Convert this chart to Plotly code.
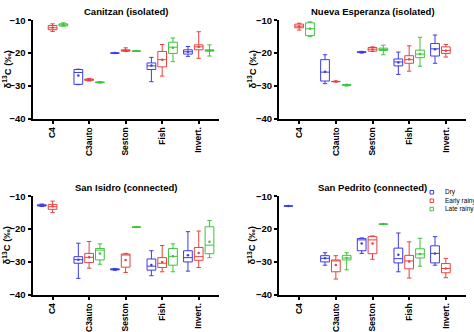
import plotly.graph_objects as go

CATEGORIES = ["C4", "C3auto", "Seston", "Fish", "Invert."]
SEASONS = ["Dry", "Early rainy", "Late rainy"]
SEASON_COLORS = ["#3c3ce6", "#e8403f", "#3dc43d"]
SITES = ["Canitzan (isolated)", "Nueva Esperanza (isolated)",
         "San Isidro (connected)", "San Pedrito (connected)"]
Y_TICKS = [-10, -20, -30, -40]
Y_TITLE = "δ<sup>13</sup>C (‰)"

# per category: (lower whisker, Q1, median, Q3, upper whisker, mean); None = no samples
canitzan_dry = [None,
                (-29.6, -29.5, -25.9, -25.0, -24.9, -26.8),
                (-20.1, -20.05, -20.0, -19.95, -19.9, -20.0),
                (-28.7, -25.0, -23.9, -23.0, -21.3, -23.8),
                (-21.0, -20.3, -19.6, -19.0, -18.0, -19.6)]
canitzan_early = [(-13.4, -12.9, -12.3, -11.6, -11.1, -12.2),
                  (-28.5, -28.3, -28.1, -27.9, -27.7, -28.1),
                  (-19.5, -19.4, -19.3, -19.0, -18.4, -19.2),
                  (-27.0, -24.2, -22.0, -19.5, -17.4, -22.0),
                  (-21.6, -19.0, -18.1, -17.5, -13.5, -18.1)]
canitzan_late = [(-11.8, -11.75, -11.4, -11.1, -10.8, -11.4),
                 (-29.1, -29.0, -28.9, -28.8, -28.7, -28.9),
                 (-19.5, -19.45, -19.4, -19.35, -19.3, -19.4),
                 (-22.6, -20.1, -18.2, -16.7, -15.4, -18.4),
                 (-20.9, -19.4, -19.2, -19.0, -17.5, -19.3)]

nueva_dry = [None,
             (-29.3, -28.5, -25.8, -22.0, -20.5, -25.7),
             (-20.0, -19.8, -19.7, -19.6, -19.5, -19.7),
             (-26.5, -23.9, -22.7, -21.8, -19.7, -22.9),
             (-23.1, -20.9, -18.7, -17.1, -14.5, -18.8)]
nueva_early = [(-13.0, -12.3, -11.8, -11.2, -10.9, -11.9),
               (-28.8, -28.7, -28.65, -28.6, -28.5, -28.65),
               (-19.5, -19.4, -18.8, -18.3, -18.1, -18.9),
               (-25.5, -23.1, -22.0, -20.8, -17.8, -21.9),
               (-21.2, -20.1, -19.2, -18.1, -17.4, -19.3)]
nueva_late = [(-15.0, -14.7, -12.6, -10.8, -10.5, -12.6),
              (-30.0, -29.8, -29.7, -29.6, -29.5, -29.7),
              (-20.5, -19.2, -18.9, -18.5, -17.6, -18.9),
              (-24.0, -21.4, -20.3, -19.1, -15.2, -20.3),
              None]

isidro_dry = [(-13.1, -13.0, -12.8, -12.6, -12.4, -12.8),
              (-35.0, -30.4, -29.3, -28.4, -24.3, -29.3),
              (-32.5, -32.4, -32.3, -32.1, -32.0, -32.3),
              (-34.2, -32.5, -31.3, -29.1, -26.6, -30.9),
              (-32.8, -30.0, -28.7, -26.6, -20.8, -28.0)]
isidro_early = [(-15.0, -14.0, -13.2, -12.5, -11.5, -13.1),
                (-31.9, -30.2, -28.6, -27.4, -23.8, -28.6),
                (-33.2, -31.6, -27.9, -27.6, -27.4, -29.4),
                (-33.0, -31.7, -30.4, -28.7, -25.0, -30.0),
                (-31.7, -29.5, -28.4, -25.6, -20.6, -27.3)]
isidro_late = [None,
               (-30.7, -29.4, -26.4, -25.9, -24.5, -27.4),
               (-19.5, -19.45, -19.4, -19.35, -19.3, -19.4),
               (-33.0, -31.0, -28.3, -25.9, -24.5, -28.3),
               (-28.7, -27.5, -24.9, -19.3, -17.4, -23.9)]

pedrito_dry = [(-13.1, -13.05, -13.0, -12.95, -12.9, -13.0),
               (-31.0, -30.0, -28.9, -28.1, -27.2, -28.9),
               (-27.4, -26.6, -23.3, -22.9, -22.7, -24.4),
               (-33.0, -30.3, -29.0, -25.8, -21.2, -27.8),
               (-31.0, -30.3, -27.4, -25.1, -22.3, -27.4)]
pedrito_early = [None,
                 (-35.2, -33.0, -29.7, -29.4, -28.1, -30.9),
                 (-29.2, -27.5, -23.3, -22.3, -22.1, -24.4),
                 (-34.9, -32.1, -29.7, -28.0, -23.9, -29.9),
                 (-34.8, -33.3, -32.0, -30.5, -28.9, -32.0)]
pedrito_late = [None,
                (-32.4, -29.4, -28.8, -28.0, -27.2, -28.8),
                (-18.6, -18.55, -18.5, -18.45, -18.4, -18.5),
                (-31.3, -28.8, -27.6, -26.0, -22.8, -27.6),
                None]

SITE_DATA = [
    [canitzan_dry, canitzan_early, canitzan_late],
    [nueva_dry, nueva_early, nueva_late],
    [isidro_dry, isidro_early, isidro_late],
    [pedrito_dry, pedrito_early, pedrito_late],
]

W, H = 474, 332


def px_x(v):
    return v / W


def px_y(v):
    return 1 - v / H


# panel domains (pixels): left, right, top, bottom
PANELS = [
    (32.5, 218.8, 14.7, 116.7),
    (279.0, 466.0, 14.7, 116.7),
    (32.5, 218.8, 196.7, 298.7),
    (279.0, 466.0, 196.7, 298.7),
]
TITLE_Y = [6, 6, 188, 188]
YLABEL_X = [7, 252, 7, 252]

FAMILY = "Liberation Sans, Arial, sans-serif"
XTICK_FONT = dict(family=FAMILY, size=8.5, color="black", weight="bold")
YTICK_FONT = dict(family=FAMILY, size=9.5, color="black", weight="bold")

fig = go.Figure()

for s, site in enumerate(SITES):
    xa = "x" if s == 0 else f"x{s + 1}"
    ya = "y" if s == 0 else f"y{s + 1}"
    for j, season in enumerate(SEASONS):
        stats = SITE_DATA[s][j]
        cats = [c for c, v in zip(CATEGORIES, stats) if v is not None]
        vals = [v for v in stats if v is not None]
        fig.add_trace(go.Box(
            x=cats,
            lowerfence=[v[0] for v in vals],
            q1=[v[1] for v in vals],
            median=[v[2] for v in vals],
            q3=[v[3] for v in vals],
            upperfence=[v[4] for v in vals],
            name=season, xaxis=xa, yaxis=ya,
            line=dict(color=SEASON_COLORS[j], width=1),
            fillcolor="rgba(0,0,0,0)",
            whiskerwidth=0.5, boxpoints=False,
            offsetgroup=str(j), alignmentgroup=f"site{s}",
            showlegend=False, hoverinfo="skip",
        ))
        # mean markers
        fig.add_trace(go.Box(
            x=cats, y=[v[5] for v in vals],
            name=season + " mean", xaxis=xa, yaxis=ya,
            line=dict(color=SEASON_COLORS[j], width=0),
            fillcolor="rgba(0,0,0,0)",
            boxpoints="all", jitter=0, pointpos=0,
            marker=dict(color=SEASON_COLORS[j], size=2.5),
            offsetgroup=str(j), alignmentgroup=f"site{s}",
            showlegend=False, hoverinfo="skip",
        ))

layout = dict(
    width=W, height=H,
    margin=dict(l=0, r=0, t=0, b=0),
    paper_bgcolor="white", plot_bgcolor="white",
    boxmode="group", boxgap=0.115, boxgroupgap=0.19,
    showlegend=False,
)

annotations = []
shapes = []
for s, site in enumerate(SITES):
    l, r, t, b = PANELS[s]
    xkey = "xaxis" if s == 0 else f"xaxis{s + 1}"
    ykey = "yaxis" if s == 0 else f"yaxis{s + 1}"
    ya = "y" if s == 0 else f"y{s + 1}"
    xa = "x" if s == 0 else f"x{s + 1}"
    layout[xkey] = dict(
        domain=[px_x(l), px_x(r)], anchor=ya,
        type="category", categoryorder="array", categoryarray=CATEGORIES,
        range=[-0.55, 4.55],
        showline=True, linecolor="black", linewidth=2,
        ticks="outside", ticklen=3, tickwidth=1.5, tickcolor="black",
        tickangle=-90, tickfont=XTICK_FONT,
        showgrid=False, zeroline=False, fixedrange=True,
    )
    layout[ykey] = dict(
        domain=[px_y(b), px_y(t)], anchor=xa,
        range=[-40, -10], tickvals=Y_TICKS,
        showline=True, linecolor="black", linewidth=2,
        ticks="outside", ticklen=3, tickwidth=1.5, tickcolor="black",
        tickfont=YTICK_FONT,
        showgrid=False, zeroline=False, fixedrange=True,
    )
    annotations.append(dict(
        text=f"<b>{site}</b>", xref="paper", yref="paper",
        x=px_x((l + r) / 2), y=px_y(TITLE_Y[s]),
        xanchor="center", yanchor="middle", showarrow=False,
        font=dict(family=FAMILY, size=9.5, color="black"),
    ))
    annotations.append(dict(
        text=f"<b>{Y_TITLE}</b>", xref="paper", yref="paper",
        x=px_x(YLABEL_X[s]), y=px_y((t + b) / 2),
        xanchor="center", yanchor="middle", showarrow=False, textangle=-90,
        font=dict(family=FAMILY, size=9.5, color="black"),
    ))

# custom compact legend (top right of last panel)
LEG_Y = [192.7, 201.4, 210.0]
for j, season in enumerate(SEASONS):
    cy = LEG_Y[j]
    shapes.append(dict(
        type="rect", xref="paper", yref="paper",
        x0=px_x(430.0), x1=px_x(433.6), y0=px_y(cy + 1.8), y1=px_y(cy - 1.8),
        line=dict(color=SEASON_COLORS[j], width=1), fillcolor="rgba(0,0,0,0)",
    ))
    annotations.append(dict(
        text=season, xref="paper", yref="paper",
        x=px_x(443.0), y=px_y(cy), xanchor="left", yanchor="middle",
        showarrow=False,
        font=dict(family=FAMILY, size=6.5, color="black"),
    ))

layout["annotations"] = annotations
layout["shapes"] = shapes
fig.update_layout(**layout)

fig.write_html("out.html")
